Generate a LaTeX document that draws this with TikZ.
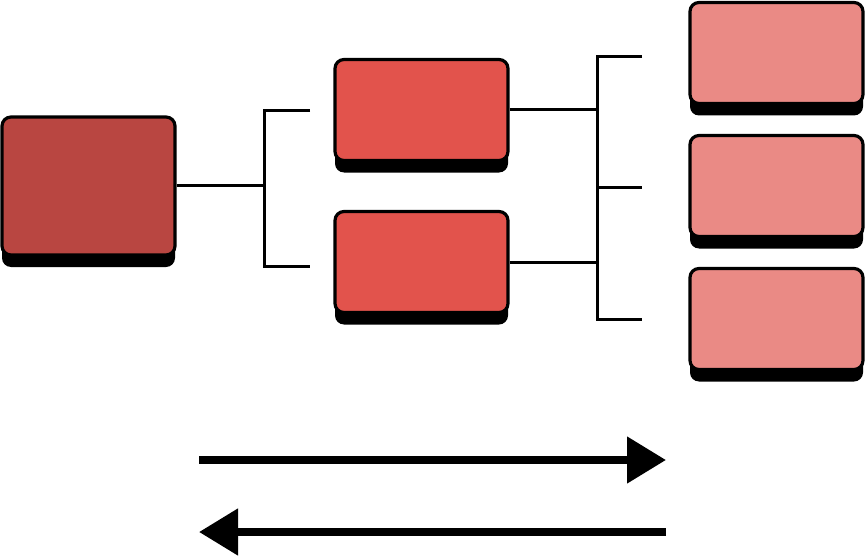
\documentclass[tikz,border=0pt]{standalone}
\usetikzlibrary{shadows,arrows.meta}
\definecolor{darkred}{RGB}{185,70,65}
\definecolor{midred}{RGB}{226,83,76}
\definecolor{lightred}{RGB}{234,138,133}
\begin{document}
\begin{tikzpicture}[x=1pt,y=-1pt,
  box/.style={draw=black,line width=3.2pt,rounded corners=9pt,inner sep=0pt,
    minimum width=173pt,
    drop shadow={shadow xshift=0pt,shadow yshift=-12pt,opacity=1,fill=black}},
  conn/.style={line width=3pt},
  bigarrow/.style={line width=8pt,-{Triangle[length=39pt,width=45pt]}}]
\useasboundingbox (0,0) rectangle (866,556);
\node[box,fill=darkred,minimum height=138pt] (L) at (88.5,186) {};
\node[box,fill=midred,minimum height=101pt] (A) at (421.5,110) {};
\node[box,fill=midred,minimum height=101pt] (B) at (421.5,262) {};
\node[box,fill=lightred,minimum height=101pt] (R1) at (776.5,53) {};
\node[box,fill=lightred,minimum height=101pt] (R2) at (776.5,186) {};
\node[box,fill=lightred,minimum height=101pt] (R3) at (776.5,319) {};
% bracket 1
\coordinate (j1) at (264,185);
\coordinate (b1t) at (310,111);
\coordinate (b1b) at (310,266);
\draw[conn] (L.east |- j1) -- (j1);
\draw[conn] (b1t) -- (b1t -| j1) -- (b1b -| j1) -- (b1b);
% bracket 2
\coordinate (j2) at (597,187);
\coordinate (b2t) at (642,57);
\coordinate (b2m) at (642,187);
\coordinate (b2b) at (642,319);
\draw[conn] (A.east) -- (A.east -| j2);
\draw[conn] (B.east) -- (B.east -| j2);
\draw[conn] (b2t) -- (b2t -| j2) -- (b2b -| j2) -- (b2b);
\draw[conn] (j2) -- (b2m);
% arrows
\coordinate (a1s) at (199,460);
\coordinate (a1e) at (666,460);
\coordinate (a2s) at (666,532);
\coordinate (a2e) at (199,532);
\draw[bigarrow] (a1s) -- (a1e);
\draw[bigarrow] (a2s) -- (a2e);
\end{tikzpicture}
\end{document}
